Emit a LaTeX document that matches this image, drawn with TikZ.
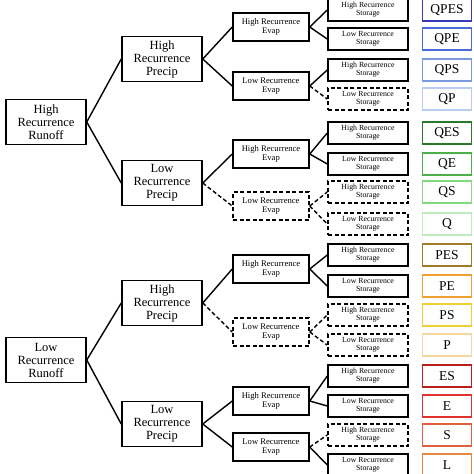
\documentclass[tikz,border=0pt]{standalone}
\usepackage{fontspec}
\setmainfont{Liberation Serif}
\definecolor{qpes}{HTML}{3A3AB8}
\definecolor{qpe}{HTML}{4A6AD8}
\definecolor{qps}{HTML}{7A9AE0}
\definecolor{qp}{HTML}{B8CDF0}
\definecolor{qes}{HTML}{2A7A2A}
\definecolor{qe}{HTML}{4AB04A}
\definecolor{qs}{HTML}{80DC80}
\definecolor{qq}{HTML}{C0ECC0}
\definecolor{pes}{HTML}{A07A28}
\definecolor{pe}{HTML}{F0A030}
\definecolor{ps}{HTML}{F0D030}
\definecolor{pp}{HTML}{F5D8A0}
\definecolor{es}{HTML}{B82020}
\definecolor{ee}{HTML}{E03030}
\definecolor{ss}{HTML}{E06040}
\definecolor{ll}{HTML}{E88840}
\tikzset{
  box/.style = {draw, line width = 1.5pt, inner sep = 0pt, align = center},
  runoffbox/.style = {box, minimum width = 80pt, minimum height = 45pt, font = \fontsize{12.5}{13}\selectfont},
  precipbox/.style = {runoffbox},
  evapbox/.style = {box, minimum width = 76pt, minimum height = 28pt, font = \fontsize{8.6}{9}\selectfont},
  storebox/.style = {box, minimum width = 80pt, minimum height = 22pt, font = \fontsize{7.8}{8}\selectfont},
  codebox/.style = {draw = #1, line width = 1.3pt, inner sep = 0pt, minimum width = 49pt, minimum height = 22pt, font = \fontsize{13.5}{14}\selectfont},
  link/.style = {line width = 1.4pt},
  gap/.style = {dash pattern = on 4pt off 2.5pt}
}
\begin{document}
\begin{tikzpicture}[x = 1pt, y = -1pt]
\clip (0,0) rectangle (474,474);
% runoff
\node[runoffbox] (r1) at (46,122) {High\\Recurrence\\Runoff};
\node[runoffbox] (r2) at (46,360) {Low\\Recurrence\\Runoff};
% precip
\foreach \i/\y/\lvl/\up/\ln in {1/59/High/1/solid, 2/183/Low/1/solid, 3/303/High/2/solid, 4/424/Low/2/solid} {
  \node[precipbox] (p\i) at (162,\y) {\lvl\\Recurrence\\Precip};
  \draw[link, \ln] (r\up.east) -- (p\i.west);
}
% evap
\foreach \i/\y/\lvl/\ln in {1/27/High/solid, 2/86/Low/solid, 3/154/High/solid, 4/206/Low/gap, 5/269/High/solid, 6/332/Low/gap, 7/401/High/solid, 8/447/Low/solid} {
  \pgfmathtruncatemacro\up{(\i+1)/2}
  \node[evapbox, \ln] (e\i) at (271,\y) {\lvl{} Recurrence\\Evap};
  \draw[link, \ln] (p\up.east) -- (e\i.west);
}
% storage
\foreach \i/\y/\lvl/\ln in {1/10/High/solid, 2/39/Low/solid, 3/70/High/solid, 4/99/Low/gap,
  5/133/High/solid, 6/164/Low/solid, 7/192/High/gap, 8/224/Low/gap,
  9/255/High/solid, 10/286/Low/solid, 11/315/High/gap, 12/345/Low/gap,
  13/376/High/solid, 14/406/Low/solid, 15/435/High/gap, 16/465/Low/solid} {
  \pgfmathtruncatemacro\up{(\i+1)/2}
  \node[storebox, \ln] (s\i) at (368,\y) {\lvl{} Recurrence\\Storage};
  \draw[link, \ln] (e\up.east) -- (s\i.west);
}
% codes
\foreach \i/\txt/\col in {1/QPES/qpes, 2/QPE/qpe, 3/QPS/qps, 4/QP/qp, 5/QES/qes, 6/QE/qe, 7/QS/qs, 8/Q/qq,
  9/PES/pes, 10/PE/pe, 11/PS/ps, 12/P/pp, 13/ES/es, 14/E/ee, 15/S/ss, 16/L/ll} {
  \node[codebox = \col] (c\i) at (447,0 |- s\i) {\txt};
}
\end{tikzpicture}
\end{document}
